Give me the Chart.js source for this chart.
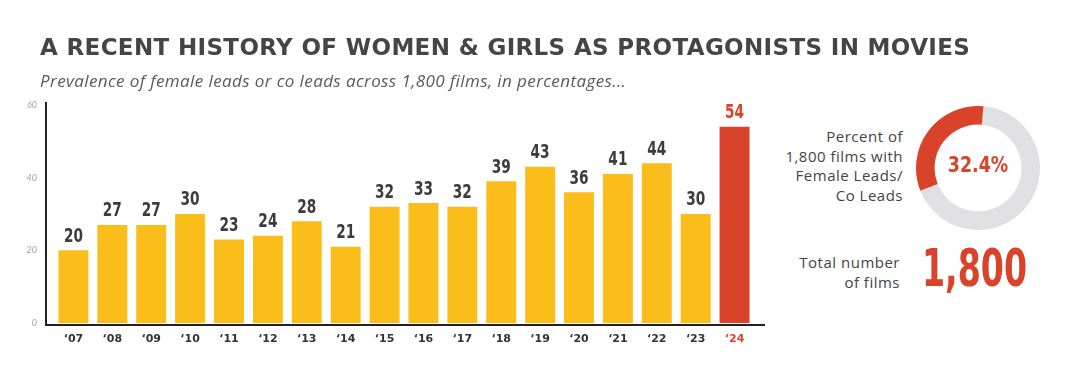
<!DOCTYPE html>
<html>
<head>
<meta charset="utf-8">
<script src="https://cdn.jsdelivr.net/npm/chart.js@4.4.1/dist/chart.umd.min.js"></script>
<style>
    body { margin: 0; width: 1080px; height: 374px; background: #fff; position: relative; overflow: hidden; font-family: 'Open Sans', sans-serif; }
    .abs { position: absolute; }
    #title { left: 40px; top: 34px; font: bold 23px 'DejaVu Sans', sans-serif; color: #454545; white-space: nowrap; letter-spacing: 0.35px; }
    #subtitle { left: 40px; top: 69px; font: italic 17px 'Open Sans', sans-serif; color: #5a5a5a; white-space: nowrap; letter-spacing: 0.4px; }
    #barWrap { left: 0; top: 0; width: 780px; height: 374px; }
    #donutWrap { left: 916px; top: 106px; width: 124px; height: 124px; }
    #pctLabel { right: 177px; top: 127px; text-align: right; font: 15px 'Open Sans', sans-serif; color: #444; line-height: 19.5px; letter-spacing: 0.5px; }
    #pctValue { left: 916px; top: 152px; width: 124px; text-align: center; font: bold 22px 'DejaVu Sans Condensed', sans-serif; color: #d9432a; transform: scaleX(0.88); }
    #totalLabel { right: 180px; top: 252px; text-align: right; font: 15px 'Open Sans', sans-serif; color: #444; line-height: 20px; letter-spacing: 0.5px; }
    #totalValue { left: 922px; top: 238px; font: bold 52px 'DejaVu Sans Condensed', sans-serif; color: #d9432a; transform: scaleX(0.71); transform-origin: left center; }
</style>
</head>
<body>
<div id="barWrap" class="abs"><canvas id="barChart"></canvas></div>
<div id="title" class="abs">A RECENT HISTORY OF WOMEN &amp; GIRLS AS PROTAGONISTS IN MOVIES</div>
<div id="subtitle" class="abs">Prevalence of female leads or co leads across 1,800 films, in percentages...</div>
<div id="pctLabel" class="abs">Percent of<br>1,800 films with<br>Female Leads/<br>Co Leads</div>
<div id="donutWrap" class="abs"><canvas id="donutChart"></canvas></div>
<div id="pctValue" class="abs">32.4%</div>
<div id="totalLabel" class="abs">Total number<br>of films</div>
<div id="totalValue" class="abs">1,800</div>
<script>
const years = ['\u201807', '\u201808', '\u201809', '\u201810', '\u201811', '\u201812', '\u201813', '\u201814', '\u201815',
               '\u201816', '\u201817', '\u201818', '\u201819', '\u201820', '\u201821', '\u201822', '\u201823', '\u201824'];
const femaleLeadPct = [20, 27, 27, 30, 23, 24, 28, 21, 32, 33, 32, 39, 43, 36, 41, 44, 30, 54];
const yTicks = [0, 20, 40, 60];
const donutShare = [67.6, 32.4]; // rest, female leads

const YELLOW = '#fbbd19';
const RED = '#d9432a';
const lastIdx = femaleLeadPct.length - 1;
const barColors = femaleLeadPct.map((v, i) => i === lastIdx ? RED : YELLOW);

// value labels above bars + the two axis lines
const barExtras = {
    id: 'barExtras',
    afterDatasetsDraw(chart) {
        const ctx = chart.ctx;
        const meta = chart.getDatasetMeta(0);
        ctx.save();
        ctx.font = 'bold 19px "DejaVu Sans Condensed", sans-serif';
        ctx.textAlign = 'center';
        ctx.textBaseline = 'bottom';
        meta.data.forEach((bar, i) => {
            ctx.fillStyle = i === lastIdx ? RED : '#3c3c3c';
            ctx.save();
            ctx.translate(bar.x, bar.y - 4);
            ctx.scale(0.8, 1);
            ctx.fillText(femaleLeadPct[i], 0, 0);
            ctx.restore();
        });

        ctx.strokeStyle = '#222';
        ctx.lineWidth = 2;
        ctx.beginPath();
        ctx.moveTo(46, 102);
        ctx.lineTo(46, 325);
        ctx.lineTo(765, 325);
        ctx.stroke();
        ctx.restore();
    }
};

new Chart(document.getElementById('barChart'), {
    type: 'bar',
    data: {
        labels: years,
        datasets: [{
            data: femaleLeadPct,
            backgroundColor: barColors,
            barPercentage: 0.77,
            categoryPercentage: 1
        }]
    },
    options: {
        responsive: true,
        maintainAspectRatio: false,
        animation: false,
        layout: { padding: { top: 105, right: 26, bottom: 0, left: 0 } },
        plugins: { legend: { display: false }, tooltip: { enabled: false } },
        scales: {
            x: {
                grid: { display: false, drawTicks: false },
                border: { display: false },
                ticks: {
                    padding: 10,
                    font: { family: 'DejaVu Sans', weight: 'bold', size: 11 },
                    color: ctx => ctx.index === lastIdx ? RED : '#333'
                },
                afterFit: s => { s.height = 51; }
            },
            y: {
                min: 0,
                max: 60,
                afterBuildTicks: s => { s.ticks = yTicks.map(v => ({ value: v })); },
                grid: { display: false, drawTicks: false },
                border: { display: false },
                ticks: {
                    padding: 17,
                    font: { family: 'Lato', style: 'italic', size: 9 },
                    color: '#a0a0a0'
                },
                afterFit: s => { s.width = 54; }
            }
        }
    },
    plugins: [barExtras]
});

new Chart(document.getElementById('donutChart'), {
    type: 'doughnut',
    data: {
        labels: ['Other', 'Female Leads/Co Leads'],
        datasets: [{
            data: donutShare,
            backgroundColor: ['#e1e1e3', RED],
            borderWidth: 0
        }]
    },
    options: {
        responsive: true,
        maintainAspectRatio: false,
        animation: false,
        cutout: '70%',
        rotation: 5,
        plugins: { legend: { display: false }, tooltip: { enabled: false } }
    }
});
</script>
</body>
</html>
